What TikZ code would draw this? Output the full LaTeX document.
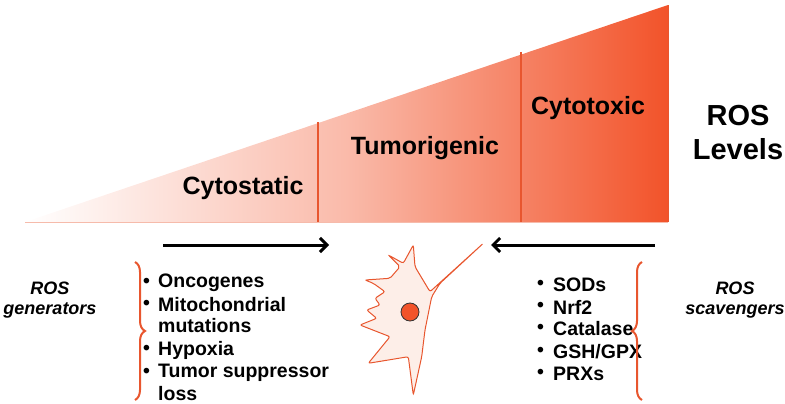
\documentclass[tikz,border=0pt]{standalone}
\usepackage{fontspec}
\setmainfont{Liberation Sans}
\usetikzlibrary{decorations.pathreplacing,arrows.meta}
\definecolor{ros}{HTML}{F2532A}
\definecolor{rosline}{HTML}{E8562E}
\definecolor{cellfill}{HTML}{FDEEE8}
\tikzset{
  lbl/.style={font=\bfseries\fontsize{25}{28}\selectfont, anchor=center},
  item/.style={font=\bfseries\fontsize{19.5}{22}\selectfont, anchor=west, inner sep=0pt},
  side/.style={font=\bfseries\itshape\fontsize{18}{20}\selectfont, align=center},
  brc/.style={draw=rosline, line width=2pt, decorate, decoration={brace, amplitude=10pt}},
  arr/.style={line width=3pt, -{Straight Barb[length=7pt,width=14pt]}},
}
\begin{document}
\begin{tikzpicture}[x=1pt,y=-1pt]
\useasboundingbox (0,0) rectangle (785,404);
% triangle
\begin{scope}
\clip (25,222) -- (668,222) -- (668,5) -- cycle;
\shade[left color=white, right color=ros, middle color=ros!40] (25,0) rectangle (668,222);
\end{scope}
\draw[rosline!40, line width=0.6pt] (25,222) -- (668,222);
\draw[rosline, line width=0.6pt] (668,222) -- (668,5);
\coordinate (d1t) at (318,122); \coordinate (d1b) at (318,222);
\coordinate (d2t) at (521,52); \coordinate (d2b) at (521,222);
\draw[rosline, line width=2pt] (d1t) -- (d1b);
\draw[rosline, line width=2pt] (d2t) -- (d2b);
\node[lbl] (cs) at (243,188) {Cytostatic};
\node[lbl] (tg) at (425,148) {Tumorigenic};
\node[lbl] (ct) at (588,108) {Cytotoxic};
\node[font=\bfseries\fontsize{29}{34}\selectfont, align=center] (lev) at (738,133) {ROS\\Levels};
% arrows
\coordinate (a1s) at (163,245); \coordinate (a1e) at (329,245);
\coordinate (a2s) at (655,245); \coordinate (a2e) at (491,245);
\draw[arr] (a1s) -- (a1e);
\draw[arr] (a2s) -- (a2e);
% lists
\foreach \n/\y/\t/\b in {l1/283/Oncogenes/1, l2/305/Mitochondrial/1, l3/326/mutations/0, l4/350/Hypoxia/1, l5/373/Tumor suppressor/1, l6/394/loss/0}{
  \node[item] (\n) at (158,\y) {\t};
  \ifnum\b=1 \node[item] at (143,\y) {•};\fi
}
\foreach \n/\y/\t in {r1/285/SODs, r2/307/Nrf2, r3/329/Catalase, r4/352/{GSH/GPX}, r5/374/PRXs}{
  \node[item] (\n) at (553,\y) {\t};
  \node[item] at (537,\y) {•};
}
\coordinate (b1t) at (135,262); \coordinate (b1b) at (135,400);
\coordinate (b2t) at (642,262); \coordinate (b2b) at (642,400);
\draw[brc] (b1t) -- (b1b);
\draw[brc] (b2b) -- (b2t);
\node[side] (gen) at (50,300) {ROS\\generators};
\node[side] (sca) at (735,300) {ROS\\scavengers};
% cell
\draw[rosline, fill=cellfill, line width=1pt, rounded corners=2pt]
 (413.3,245) -- (415,266.7) -- (430,291.7) -- (483.3,243.3) -- (440,283.3) -- (431.7,296.7) -- (425,330) -- (421.7,356.7) -- (413.3,395) -- (408.3,356.7) -- (368.3,363.3) -- (390,336.7) -- (360,325) -- (376.7,318.3) -- (366.7,310) -- (380,305) -- (375,298.3) -- (385,291.7) -- (373.3,283.3) -- (365,280) -- (390,278.3) -- (400,266.7) -- (388.3,255) -- (403.3,263.3) -- cycle;
\node[circle, draw=black!80, fill=ros, minimum size=18pt, inner sep=0pt, line width=0.8pt] (nuc) at (410,312) {};
\end{tikzpicture}
\end{document}
